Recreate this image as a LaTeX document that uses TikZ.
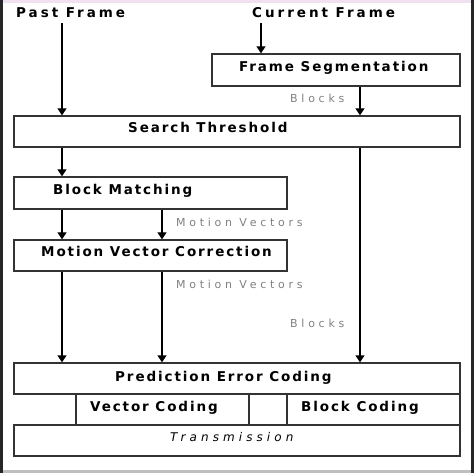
\documentclass[tikz,border=0pt]{standalone}
\usepackage{fontspec}
\setmainfont{DejaVu Sans}
\newfontfamily\boxfont{DejaVu Sans}[LetterSpace=14]
\newfontfamily\inputfont{DejaVu Sans}[LetterSpace=22]
\newfontfamily\flowfont{DejaVu Sans}[LetterSpace=34]
\usetikzlibrary{arrows.meta, positioning, calc}

\begin{document}
\begin{tikzpicture}[
    x=1pt, y=-1pt,
    box/.style={rectangle, draw=black!80, line width=1.3pt, inner sep=0pt},
    title/.style={font=\boxfont\bfseries\fontsize{13.5}{15}\selectfont,
                  inner sep=0pt, anchor=base west},
    input/.style={title, font=\inputfont\bfseries\fontsize{13.5}{15}\selectfont},
    flow/.style={font=\flowfont\fontsize{11}{13}\selectfont, text=black!50,
                 inner sep=0pt, anchor=base west},
    arr/.style={-{Triangle[width=9pt,length=7pt]}, line width=1.3pt},
  ]
  \useasboundingbox (0,0) rectangle (474,473);
  % image edges
  \fill[black!85] (0,0) rectangle (3,473);
  \fill[black!85] (471,0) rectangle (474,473);
  \fill[violet!12] (3,0) rectangle (471,3);
  \fill[black!25] (3,470) rectangle (471,473);

  % columns of the arrows
  \coordinate (colA) at (62,0);
  \coordinate (colB) at (162,0);
  \coordinate (colC) at (261,0);
  \coordinate (colD) at (360,0);

  % inputs
  \node[input] (past) at (16,18) {Past Frame};
  \node[input] (curr) at (252,18) {Current Frame};

  % boxes
  \node[box, minimum width=248pt, minimum height=32pt] (seg) at (336,70) {};
  \node[box, minimum width=446pt, minimum height=31pt] (search) at (237,131.5) {};
  \node[box, minimum width=273pt, minimum height=32pt] (bm) at (150.5,193) {};
  \node[box, minimum width=273pt, minimum height=31pt] (mvc) at (150.5,255.5) {};
  \node[box, minimum width=446pt, minimum height=31pt] (pec) at (237,378.5) {};
  \node[box, minimum width=173pt, minimum height=31pt] (vc) at (162.5,409.5) {};
  \node[box, minimum width=38pt, minimum height=31pt] (gap) at (268,409.5) {};
  \node[box, minimum width=173pt, minimum height=31pt] (bc) at (373.5,409.5) {};
  \node[box, minimum width=446pt, minimum height=31pt] (tx) at (237,440.5) {};

  % box texts
  \node[title] (segtxt) at (239,72) {Frame Segmentation};
  \node[title] (searchtxt) at (128,133) {Search Threshold};
  \node[title] (bmtxt) at (53,195) {Block Matching};
  \node[title] (mvctxt) at (41,257) {Motion Vector Correction};
  \node[title] (pectxt) at (115,381) {Prediction Error Coding};
  \node[title] (vctxt) at (90,411.5) {Vector Coding};
  \node[title] (bctxt) at (301,411.5) {Block Coding};
  \node[title, font=\flowfont\itshape\fontsize{12}{14}\selectfont] (txtxt) at (170,441.5) {Transmission};

  % connectors
  \draw[arr, shorten <=5pt] (past.south -| colA) -- (search.north -| colA);
  \draw[arr, shorten <=5pt] (curr.south -| colC) -- (seg.north -| colC);
  \draw[arr] (seg.south -| colD) -- (search.north -| colD);
  \draw[arr] (search.south -| colA) -- (bm.north -| colA);
  \draw[arr] (bm.south -| colA) -- (mvc.north -| colA);
  \draw[arr] (bm.south -| colB) -- (mvc.north -| colB);
  \draw[arr] (mvc.south -| colA) -- (pec.north -| colA);
  \draw[arr] (mvc.south -| colB) -- (pec.north -| colB);
  \draw[arr] (search.south -| colD) -- (pec.north -| colD);

  % flow labels
  \node[flow] (blk1) at (290,103) {Blocks};
  \node[flow] (mv1) at (176,227) {Motion Vectors};
  \node[flow] (mv2) at (176,288.5) {Motion Vectors};
  \node[flow] (blk2) at (290,327) {Blocks};
\end{tikzpicture}
\end{document}
